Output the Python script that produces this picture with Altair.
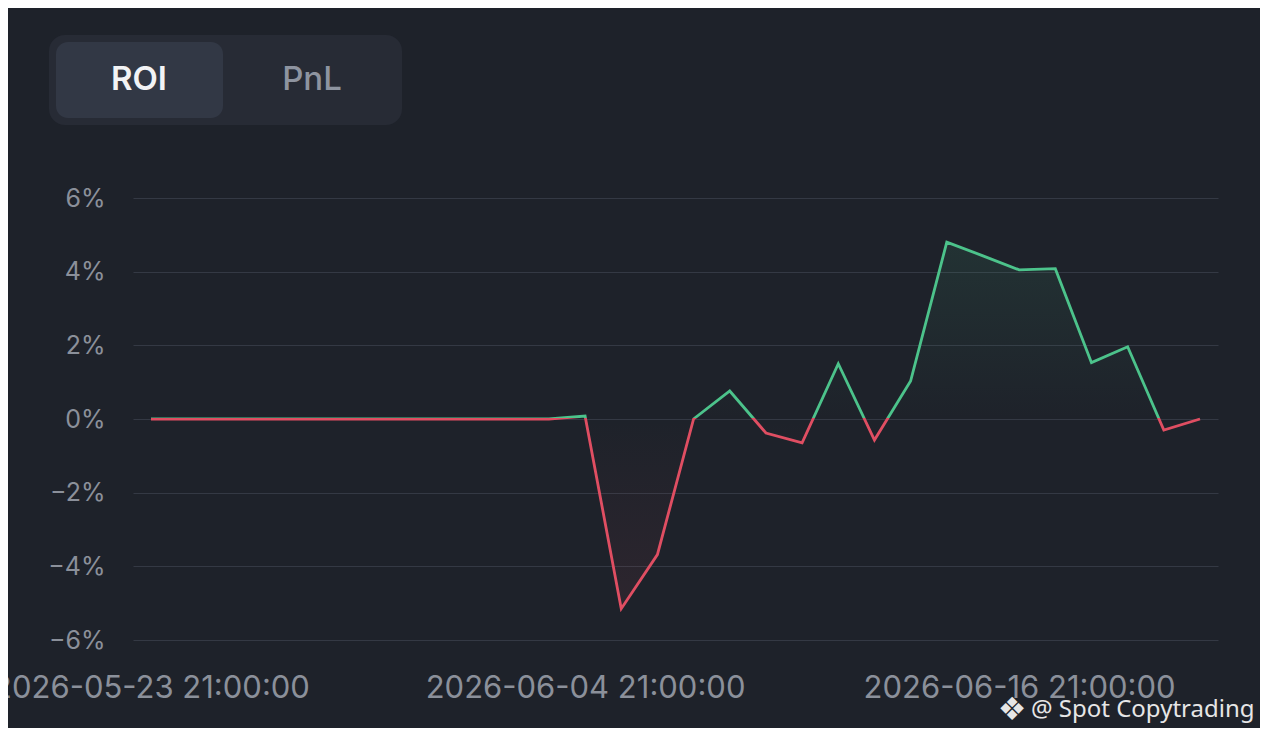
import altair as alt
import pandas as pd

# ---- data ----
dates = [
    "2026-05-23T21:00:00", "2026-05-24T21:00:00", "2026-05-25T21:00:00", "2026-05-26T21:00:00",
    "2026-05-27T21:00:00", "2026-05-28T21:00:00", "2026-05-29T21:00:00", "2026-05-30T21:00:00",
    "2026-05-31T21:00:00", "2026-06-01T21:00:00", "2026-06-02T21:00:00", "2026-06-03T21:00:00",
    "2026-06-04T21:00:00", "2026-06-05T21:00:00", "2026-06-06T21:00:00", "2026-06-07T21:00:00",
    "2026-06-08T21:00:00", "2026-06-09T21:00:00", "2026-06-10T21:00:00", "2026-06-11T21:00:00",
    "2026-06-12T21:00:00", "2026-06-13T21:00:00", "2026-06-14T21:00:00", "2026-06-15T21:00:00",
    "2026-06-16T21:00:00", "2026-06-17T21:00:00", "2026-06-18T21:00:00", "2026-06-19T21:00:00",
    "2026-06-20T21:00:00", "2026-06-21T21:00:00",
]
roi_pct = [
    0, 0, 0, 0, 0, 0, 0, 0, 0, 0, 0, 0,
    0.08, -5.15, -3.68, 0.0, 0.76, -0.38, -0.65, 1.5, -0.57, 1.03,
    4.8, 4.43, 4.05, 4.08, 1.53, 1.96, -0.3, 0.0,
]
x_tick_dates = ["2026-05-23T21:00:00", "2026-06-04T21:00:00", "2026-06-16T21:00:00"]
y_ticks = [-6, -4, -2, 0, 2, 4, 6]
tabs = ["ROI", "PnL"]
watermark = "@ Spot Copytrading"

# ---- styling ----
BG = "#1e222a"
GREEN = "#4cc38b"
RED = "#e04e62"
GRID = "#343944"
LABEL = "#8b909a"
FONT = "Inter"

W, H = 1085, 442

df = pd.DataFrame({"date": dates, "roi": roi_pct})

ymax, ymin = max(roi_pct), min(roi_pct)
zero_off = ymax / (ymax - ymin)
eps = 1.0 / ((ymax - ymin) * H / 12.0)  # ~1px nudge so the zero line reads red

line_grad = {
    "gradient": "linear", "x1": 0, "y1": 0, "x2": 0, "y2": 1,
    "stops": [
        {"offset": 0, "color": GREEN},
        {"offset": zero_off - eps, "color": GREEN},
        {"offset": zero_off - eps, "color": RED},
        {"offset": 1, "color": RED},
    ],
}
area_grad = {
    "gradient": "linear", "x1": 0, "y1": 0, "x2": 0, "y2": 1,
    "stops": [
        {"offset": 0, "color": "rgba(76,195,139,0.10)"},
        {"offset": zero_off, "color": "rgba(76,195,139,0.0)"},
        {"offset": zero_off, "color": "rgba(224,78,98,0.0)"},
        {"offset": 1, "color": "rgba(224,78,98,0.08)"},
    ],
}

def to_dt(s):
    t = pd.Timestamp(s)
    return alt.DateTime(year=t.year, month=t.month, date=t.day, hours=t.hour, minutes=t.minute)

x_enc = alt.X(
    "date:T",
    scale=alt.Scale(padding=18, nice=False),
    axis=alt.Axis(
        values=[to_dt(s) for s in x_tick_dates],
        format="%Y-%m-%d %H:%M:%S",
        title=None, domain=False, ticks=False, grid=False,
        labelFont=FONT, labelFontSize=31, labelColor=LABEL, labelLimit=600,
        labelPadding=33, labelOverlap=False, labelBound=False, labelFlush=False,
    ),
)
y_enc = alt.Y(
    "roi:Q",
    scale=alt.Scale(domain=[-6, 6], nice=False, zero=False),
    axis=alt.Axis(
        values=y_ticks, labelExpr="format(datum.value, 'd') + '%'",
        title=None, domain=False, ticks=False, grid=True,
        gridColor=GRID, gridWidth=1.2,
        labelFont=FONT, labelFontSize=25, labelColor=LABEL, labelPadding=28,
    ),
)

base = alt.Chart(df)
area = base.mark_area(fill=area_grad, line=False, interpolate="linear").encode(
    x=x_enc, y=y_enc, y2=alt.datum(0)
)
line = base.mark_line(stroke=line_grad, strokeWidth=2.8, interpolate="linear").encode(
    x=x_enc, y=y_enc
)

one = pd.DataFrame({"k": [0]})
deco = alt.Chart(one)
outer = deco.mark_rect(fill="#272b35", cornerRadius=16).encode(
    x=alt.value(-84), x2=alt.value(269), y=alt.value(-163), y2=alt.value(-73)
)
sel = deco.mark_rect(fill="#323845", cornerRadius=12).encode(
    x=alt.value(-77), x2=alt.value(90), y=alt.value(-156), y2=alt.value(-80)
)
roi_txt = deco.mark_text(
    text=tabs[0], font=FONT, fontSize=33, fontWeight=600, color="#f2f3f5",
    align="center", baseline="middle",
).encode(x=alt.value(6), y=alt.value(-118))
pnl_txt = deco.mark_text(
    text=tabs[1], font=FONT, fontSize=33, fontWeight=500, color="#8e94a0",
    align="center", baseline="middle",
).encode(x=alt.value(179), y=alt.value(-118))
wm_logo = deco.mark_text(
    text="\u2756", font="DejaVu Sans", fontSize=32, color="#e6e6e6",
    align="center", baseline="middle",
).encode(x=alt.value(879), y=alt.value(512))
wm_txt = deco.mark_text(
    text=watermark, font="Noto Sans", fontSize=24, color="#e6e6e6",
    align="left", baseline="middle",
).encode(x=alt.value(898), y=alt.value(512))

chart = alt.layer(area, line, outer, sel, roi_txt, pnl_txt, wm_logo, wm_txt).properties(
    width=W, height=H,
    autosize=alt.AutoSizeParams(type="none"),
    padding={"left": 125, "top": 190, "right": 42, "bottom": 88},
    background=BG,
).configure_view(stroke=None)

chart.save("out.html", embed_options={"renderer": "svg", "actions": False})
